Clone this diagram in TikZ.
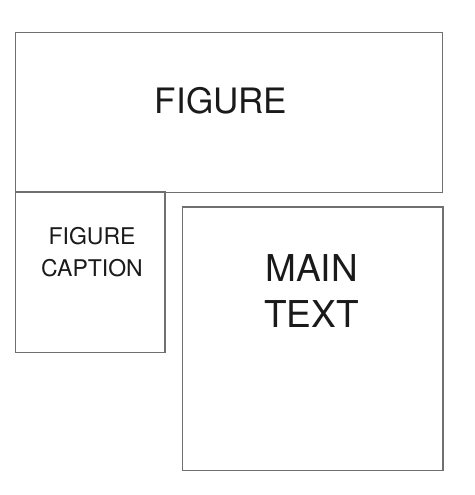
\documentclass[tikz,border=0pt]{standalone}
\usepackage{fontspec}
\setmainfont{TeX Gyre Heros}
\definecolor{boxline}{HTML}{707070}
\definecolor{txt}{HTML}{1A1A1A}
\begin{document}
\begin{tikzpicture}[x=1pt,y=-1pt,
  panel/.style={draw=boxline,line width=1.3pt,anchor=north west,inner sep=0pt,outer sep=0pt},
  bigtxt/.style={anchor=base,inner sep=0pt,text=txt,font=\fontsize{35}{40}\selectfont},
  maintxt/.style={anchor=base,inner sep=0pt,text=txt,font=\fontsize{37}{44}\selectfont},
  captxt/.style={anchor=base,inner sep=0pt,text=txt,font=\fontsize{23}{32}\selectfont}]
\useasboundingbox (0,0) rectangle (474,495);
\fill[white] (0,0) rectangle (474,495);
\node[panel,minimum width=427.2pt,minimum height=159.8pt] (figure) at (15.5,32.7) {};
\node[panel,minimum width=149.5pt,minimum height=160.3pt] (caption) at (15.5,192) {};
\node[panel,minimum width=260.7pt,minimum height=263.7pt] (main) at (182.3,207) {};
\node[bigtxt] (figlabel) at (221,113) {FIGURE};
\node[captxt] (cap1) at (92,244) {FIGURE};
\node[captxt] (cap2) at (92,276) {CAPTION};
\node[maintxt] (main1) at (311.5,281) {MAIN};
\node[maintxt] (main2) at (311.5,327) {TEXT};
\end{tikzpicture}
\end{document}
